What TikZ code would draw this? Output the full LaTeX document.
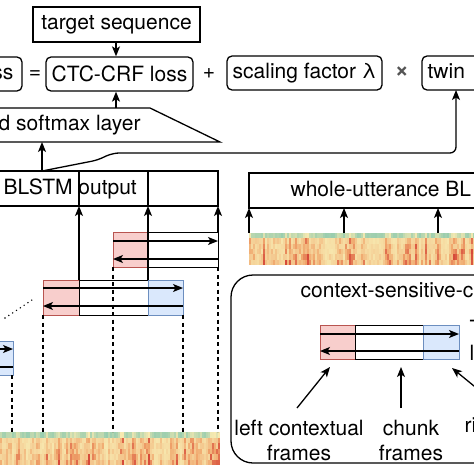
\documentclass[tikz,border=0pt]{standalone}
\usepackage{fontspec}
\setmainfont{TeX Gyre Heros}
\usetikzlibrary{arrows.meta}
\definecolor{redF}{HTML}{F8CECC}
\definecolor{redD}{HTML}{B85450}
\definecolor{bluF}{HTML}{DAE8FC}
\definecolor{bluD}{HTML}{6C8EBF}
\definecolor{specY}{HTML}{F7E9B0}
\definecolor{specO}{HTML}{F0A66C}
\definecolor{specR}{HTML}{D64A3A}
\definecolor{specG}{HTML}{74C2AE}
\definecolor{timesgray}{HTML}{555555}
\gdef\Lprev{0.5}
\newcommand{\drawspec}[4]{%
  \pgfmathtruncatemacro{\ncol}{#3/2-1}%
  \foreach \i in {0,...,\ncol}{%
    \pgfmathsetmacro{\Lraw}{0.55*\Lprev+0.45*rnd}%
    \xdef\Lprev{\Lraw}%
    \pgfmathsetmacro{\L}{min(1,2.2*\Lraw*\Lraw*\Lraw+0.08)}%
    \pgfmathsetmacro{\xx}{#1+2*\i}%
    \pgfmathtruncatemacro{\g}{(1-\L)*80}%
    \fill[specG!\g!specY] (\xx,#2) rectangle ++(2.3,#4/6+0.3);
    \foreach \j in {1,...,5}{%
      \pgfmathtruncatemacro{\c}{min(100,\L*(20+80*rnd)*(0.6+0.1*\j)*1.25)}%
      \ifnum\c<50
        \pgfmathtruncatemacro{\cc}{2*\c}%
        \fill[specO!\cc!specY] (\xx,#2+\j*#4/6) rectangle ++(2.3,#4/6+0.3);
      \else
        \pgfmathtruncatemacro{\cc}{2*\c-100}%
        \fill[specR!\cc!specO] (\xx,#2+\j*#4/6) rectangle ++(2.3,#4/6+0.3);
      \fi
    }%
  }%
}
\begin{document}
\begin{tikzpicture}[x=1pt,y=-1pt,line width=1.3pt,
  font=\fontsize{21}{25}\selectfont,
  arr/.style={-{Stealth[length=10pt,width=8pt,inset=2.5pt]}},
  sqbox/.style={draw,inner sep=0pt},
  rbox/.style={draw,rounded corners=5pt,inner sep=0pt},
  txt/.style={inner sep=0pt,text height=15pt,text depth=4.5pt},
  dsh/.style={dash pattern=on 4pt off 3.5pt,line width=1.5pt},
  redblk/.style={fill=redF,draw=redD,line width=0.9pt,inner sep=0pt,anchor=north west},
  blublk/.style={fill=bluF,draw=bluD,line width=0.9pt,inner sep=0pt,anchor=north west},
  whtblk/.style={draw,line width=1.3pt,inner sep=0pt,anchor=north west}]
\useasboundingbox (0,0) rectangle (474,474);
\fill[white] (0,0) rectangle (474,474);
\clip (0,0) rectangle (474,474);
\pgfmathsetseed{11}

% ---------- top row ----------
\node[sqbox,minimum width=167,minimum height=35] (tgt) at (116.5,24.5) {target sequence};
\node[rbox,minimum width=147,minimum height=34] (ctc) at (119.5,74) {CTC-CRF loss};
\node[rbox,minimum width=60,minimum height=34] (lossbox) at (-8,74) {};
\node[txt,anchor=east] (losstxt) at (14,74) {ss};
\node[txt] (eq) at (35,73) {=};
\node[txt] (plus) at (209,73) {+};
\node[rbox,minimum width=155,minimum height=34] (scale) at (304.5,73) {scaling factor λ};
\node[txt,text=timesgray,font=\fontsize{24}{25}\selectfont\bfseries] (times) at (402,72) {×};
\node[rbox,minimum width=68,minimum height=34] (twin) at (456,73) {};
\node[txt,anchor=west] (twintxt) at (427,73) {twin};
\coordinate (tgtarr) at (116,42);
\draw[arr] (tgtarr) -- (tgtarr |- ctc.north);

% ---------- softmax ----------
\draw (-5,108) -- (150,108) -- (220,142) -- (-5,142);
\node[txt,anchor=west] (smtxt) at (-2,125) {d softmax layer};
\coordinate (smtop) at (116,108);
\draw[arr] (smtop) -- (smtop |- ctc.south);

% ---------- chunk BLSTM output ----------
\draw (-5,171) rectangle (218,206);
\node[txt,anchor=west] (cbotxt) at (3,189) {BLSTM output};
\draw (79,171) -- (79,206);
\draw (148,171) -- (148,206);
\coordinate (cbo) at (42,171);
\coordinate (smbot) at (42,142);
\draw[arr] (cbo) -- (smbot);
\coordinate (twinbot) at (456,90);
\draw[arr,rounded corners=6pt] (cbo) -- (98,160) .. controls (106,156) and (112,153) .. (126,153) -- (456,153) -- (twinbot);

% ---------- spectrograms ----------
\drawspec{0}{432}{220}{33}
\drawspec{249}{233}{226}{32}

% ---------- chunk blocks ----------
\node[redblk,minimum width=35,minimum height=35] (r1) at (113,232) {};
\node[whtblk,minimum width=70,minimum height=35] (w1) at (148,232) {};
\draw[arr] (113,241) -- (218,241);
\draw[arr] (218,259) -- (113,259);

\node[redblk,minimum width=36,minimum height=35] (r2) at (43,280) {};
\node[whtblk,minimum width=69,minimum height=35] (w2) at (79,280) {};
\node[blublk,minimum width=35,minimum height=35] (b2) at (148,280) {};
\draw[arr] (43,288) -- (183,288);
\draw[arr] (183,306) -- (43,306);

\node[blublk,minimum width=40,minimum height=34] (b3) at (-27,341) {};
\draw[arr] (-30,349) -- (13,349);
\draw (13,367) -- (-30,367);

\draw[arr] (79,280) -- (79,206);
\draw[arr] (148,280) -- (148,206);
\draw[arr] (218,232) -- (218,206);

\draw[line width=1.6pt,line cap=round,dash pattern=on 0pt off 4.6pt] (5,318) -- (32,300);

\draw[dsh] (12,375) -- (12,432);
\draw[dsh] (43,315) -- (43,432);
\draw[dsh] (113,267) -- (113,432);
\draw[dsh] (183,315) -- (183,432);
\draw[dsh] (218,267) -- (218,432);

% ---------- whole utterance ----------
\draw (249,173) rectangle (500,208);
\node[txt,anchor=west] (wutxt) at (290,191) {whole-utterance BL};
\draw[arr] (249,233) -- (249,208);
\draw[arr] (344,233) -- (344,208);
\draw[arr] (438,233) -- (438,208);

% ---------- context-sensitive-chunk legend ----------
\draw[rounded corners=22pt] (231,275) rectangle (530,463);
\node[txt,anchor=west] (cscthead) at (300,292) {context-sensitive-c};
\node[redblk,minimum width=35,minimum height=34] (lr) at (320,325) {};
\node[whtblk,minimum width=68,minimum height=34] (lw) at (355,325) {};
\node[blublk,minimum width=36,minimum height=34] (lb) at (423,325) {};
\draw[arr] (320,334) -- (459,334);
\draw[arr] (459,351) -- (320,351);
\node[txt,anchor=west] (lgT) at (469,330) {T};
\node[txt,anchor=west] (lgl) at (469,355) {l};

\node[align=center,inner sep=0pt] (lcf) at (299,440) {left contextual\\frames};
\node[align=center,inner sep=0pt] (chf) at (411,440) {chunk\\frames};
\node[txt,anchor=west] (rcf) at (464,427) {ri};
\coordinate (lcfa) at (297,408);
\coordinate (chfa) at (401,408);
\coordinate (rcfa) at (485,395);
\draw[arr] (lcfa) -- (330,367);
\draw[arr] (chfa) -- (401,367);
\draw[arr] (rcfa) -- (452,368);
\end{tikzpicture}
\end{document}
